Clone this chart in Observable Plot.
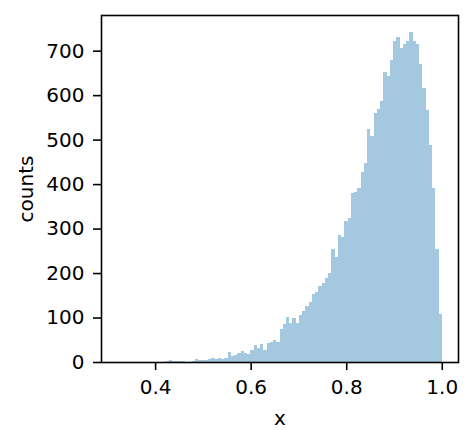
<!DOCTYPE html>
<html>
<head>
<meta charset="utf-8">
<script src="https://cdn.jsdelivr.net/npm/d3@7"></script>
<script src="https://cdn.jsdelivr.net/npm/@observablehq/plot@0.6"></script>
<style>
  html, body { margin: 0; padding: 0; background: #fff; }
  #chart { width: 474px; height: 443px; }
</style>
</head>
<body>
<div id="chart"></div>
<script>
// Histogram data: 100 equal-width bins between binMin and binMax
const binMin = 0.3207;
const binMax = 1.0;
const counts = [
  1, 0, 0, 0, 0, 1, 0, 0, 0, 1,
  0, 1, 0, 1, 1, 2, 5, 3, 2, 2,
  2, 1, 1, 3, 7, 4, 4, 5, 6, 8,
  7, 8, 7, 8, 22, 13, 16, 20, 25, 20,
  19, 26, 39, 31, 41, 26, 43, 45, 49, 46,
  75, 85, 101, 87, 98, 87, 105, 115, 127, 135,
  153, 157, 170, 178, 189, 200, 255, 237, 286, 282,
  318, 324, 379, 383, 392, 427, 447, 524, 508, 560,
  569, 586, 652, 643, 678, 722, 731, 705, 714, 722,
  743, 722, 714, 669, 615, 566, 487, 392, 255, 109
];
const xTicks = [0.4, 0.6, 0.8, 1.0];
const yTicks = [0, 100, 200, 300, 400, 500, 600, 700];
const xLabel = "x";
const yLabel = "counts";

const binWidth = (binMax - binMin) / counts.length;
const bins = counts.map((c, i) => ({
  x1: binMin + i * binWidth,
  x2: binMin + (i + 1) * binWidth,
  count: c
}));
const span = binMax - binMin;
const maxCount = d3.max(counts);

const chart = Plot.plot({
  width: 474,
  height: 443,
  marginLeft: 101,
  marginRight: 16,
  marginTop: 15,
  marginBottom: 81,
  style: { fontFamily: "DejaVu Sans", fontSize: "20px", color: "#000", background: "#fff" },
  x: { domain: [binMin - span * 0.05, binMax + span * 0.05] },
  y: { domain: [0, maxCount * 1.05] },
  marks: [
    Plot.rectY(bins, { x1: "x1", x2: "x2", y: "count", fill: "#a5c8e1", inset: 0, shapeRendering: "crispEdges" }),
    Plot.frame({ stroke: "#000", strokeWidth: 1.6 }),
    Plot.axisX({
      ticks: xTicks, tickFormat: d3.format(".1f"), tickSize: 8, tickPadding: 9,
      strokeWidth: 1.6, fontSize: 20,
      label: xLabel, labelAnchor: "center", labelArrow: "none", labelOffset: 62
    }),
    Plot.axisY({
      ticks: yTicks, tickFormat: d3.format("d"), tickSize: 8, tickPadding: 9,
      strokeWidth: 1.6, fontSize: 20,
      label: yLabel, labelAnchor: "center", labelArrow: "none", labelOffset: 83
    })
  ]
});
document.getElementById("chart").appendChild(chart);
</script>
</body>
</html>
